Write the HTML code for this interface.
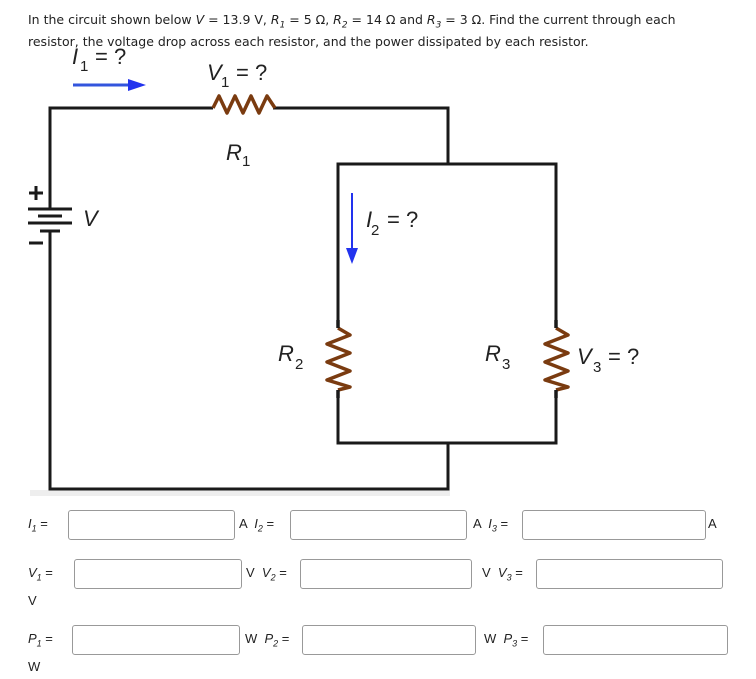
<!DOCTYPE html>
<html><head><style>
body{margin:0;width:756px;height:679px;background:#fff;position:relative;overflow:hidden;font-family:"DejaVu Sans","Liberation Sans",sans-serif;}
.t{position:absolute;font-size:12.5px;color:#222;white-space:nowrap;}
.b{position:absolute;border:1px solid #999;border-radius:3px;height:28px;background:#fff;}
.l{position:absolute;font-family:"Liberation Sans",sans-serif;font-size:13px;color:#222;white-space:nowrap;}
svg{position:absolute;left:0;top:0}
</style></head><body>
<div class="t" style="left:28px;top:12px">In the circuit shown below <i>V</i> = 13.9 V, <i>R<sub style="font-size:9px">1</sub></i> = 5 Ω, <i>R<sub style="font-size:9px">2</sub></i> = 14 Ω and <i>R<sub style="font-size:9px">3</sub></i> = 3 Ω. Find the current through each</div>
<div class="t" style="left:28px;top:34px">resistor, the voltage drop across each resistor, and the power dissipated by each resistor.</div>
<svg width="756" height="679" font-family="Liberation Sans, sans-serif" font-size="22" fill="#222">
<rect x="30" y="490" width="420" height="6" fill="#eee"/>
<g stroke="#1a1a1a" stroke-width="3" fill="none">
<polyline points="50,209 50,108 213,108"/>
<polyline points="273,108 448,108 448,164"/>
<rect x="338" y="164" width="218" height="279"/>
<polyline points="50,231 50,489 448,489 448,443"/>
<line x1="28" y1="209" x2="72" y2="209"/><line x1="38" y1="216" x2="62" y2="216"/>
<line x1="28" y1="223" x2="72" y2="223"/><line x1="40" y1="231" x2="60" y2="231"/>
<line x1="29" y1="193" x2="43" y2="193"/><line x1="36" y1="186" x2="36" y2="200"/>
<line x1="29" y1="243" x2="43" y2="243"/>
<line x1="338" y1="320" x2="338" y2="395" stroke="#fff" stroke-width="5"/>
<line x1="556" y1="320" x2="556" y2="395" stroke="#fff" stroke-width="5"/>
</g>
<g stroke="#7a3b10" stroke-width="3.5" fill="none" stroke-linejoin="round">
<polyline points="213,108 219,96 227,113 235,96 243,113 251,96 259,113 267,96 275,108"/>
<polyline points="338,328 350,335 327,344 350,353 327,362 350,371 327,380 350,387 338,390"/>
<polyline points="556,328 568,335 545,344 568,353 545,362 568,371 545,380 568,387 556,390"/>
<line x1="338" y1="320" x2="338" y2="328" stroke="#1a1a1a"/><line x1="338" y1="390" x2="338" y2="398" stroke="#1a1a1a"/>
<line x1="556" y1="320" x2="556" y2="328" stroke="#1a1a1a"/><line x1="556" y1="390" x2="556" y2="398" stroke="#1a1a1a"/>
</g>
<line x1="73" y1="85" x2="130" y2="85" stroke="#3355dd" stroke-width="3"/>
<polygon points="128,79 146,85 128,91" fill="#2233ee"/>
<line x1="352" y1="193" x2="352" y2="250" stroke="#2233ee" stroke-width="2"/>
<polygon points="346,248 352,264 358,248" fill="#2233ee"/>
<text x="72" y="64" font-style="italic">I</text><text x="80" y="71" font-size="15">1</text><text x="95" y="64">= ?</text>
<text x="207" y="80" font-style="italic">V</text><text x="221" y="87" font-size="15">1</text><text x="236" y="80">= ?</text>
<text x="226" y="160" font-style="italic">R</text><text x="242" y="166" font-size="15">1</text>
<text x="83" y="226" font-style="italic">V</text>
<text x="366" y="227" font-style="italic">I</text><text x="371" y="235" font-size="15">2</text><text x="387" y="227">= ?</text>
<text x="278" y="361" font-style="italic">R</text><text x="295" y="369" font-size="15">2</text>
<text x="485" y="361" font-style="italic">R</text><text x="502" y="369" font-size="15">3</text>
<text x="577" y="364" font-style="italic">V</text><text x="593" y="372" font-size="15">3</text><text x="608" y="364">= ?</text>
</svg>
<div class="l" style="left:28px;top:516px"><i>I<sub style="font-size:9px">1</sub></i> =</div>
<div class="b" style="left:68px;top:510px;width:165px"></div>
<div class="l" style="left:239px;top:516px">A &nbsp;<i>I<sub style="font-size:9px">2</sub></i> =</div>
<div class="b" style="left:290px;top:510px;width:175px"></div>
<div class="l" style="left:473px;top:516px">A &nbsp;<i>I<sub style="font-size:9px">3</sub></i> =</div>
<div class="b" style="left:522px;top:510px;width:182px"></div>
<div class="l" style="left:708px;top:516px">A</div>
<div class="l" style="left:28px;top:565px"><i>V<sub style="font-size:9px">1</sub></i> =</div>
<div class="b" style="left:74px;top:559px;width:166px"></div>
<div class="l" style="left:246px;top:565px">V &nbsp;<i>V<sub style="font-size:9px">2</sub></i> =</div>
<div class="b" style="left:300px;top:559px;width:170px"></div>
<div class="l" style="left:482px;top:565px">V &nbsp;<i>V<sub style="font-size:9px">3</sub></i> =</div>
<div class="b" style="left:536px;top:559px;width:185px"></div>
<div class="l" style="left:28px;top:593px">V</div>
<div class="l" style="left:28px;top:631px"><i>P<sub style="font-size:9px">1</sub></i> =</div>
<div class="b" style="left:72px;top:625px;width:166px"></div>
<div class="l" style="left:245px;top:631px">W &nbsp;<i>P<sub style="font-size:9px">2</sub></i> =</div>
<div class="b" style="left:302px;top:625px;width:172px"></div>
<div class="l" style="left:484px;top:631px">W &nbsp;<i>P<sub style="font-size:9px">3</sub></i> =</div>
<div class="b" style="left:543px;top:625px;width:183px"></div>
<div class="l" style="left:28px;top:659px">W</div>
</body></html>
